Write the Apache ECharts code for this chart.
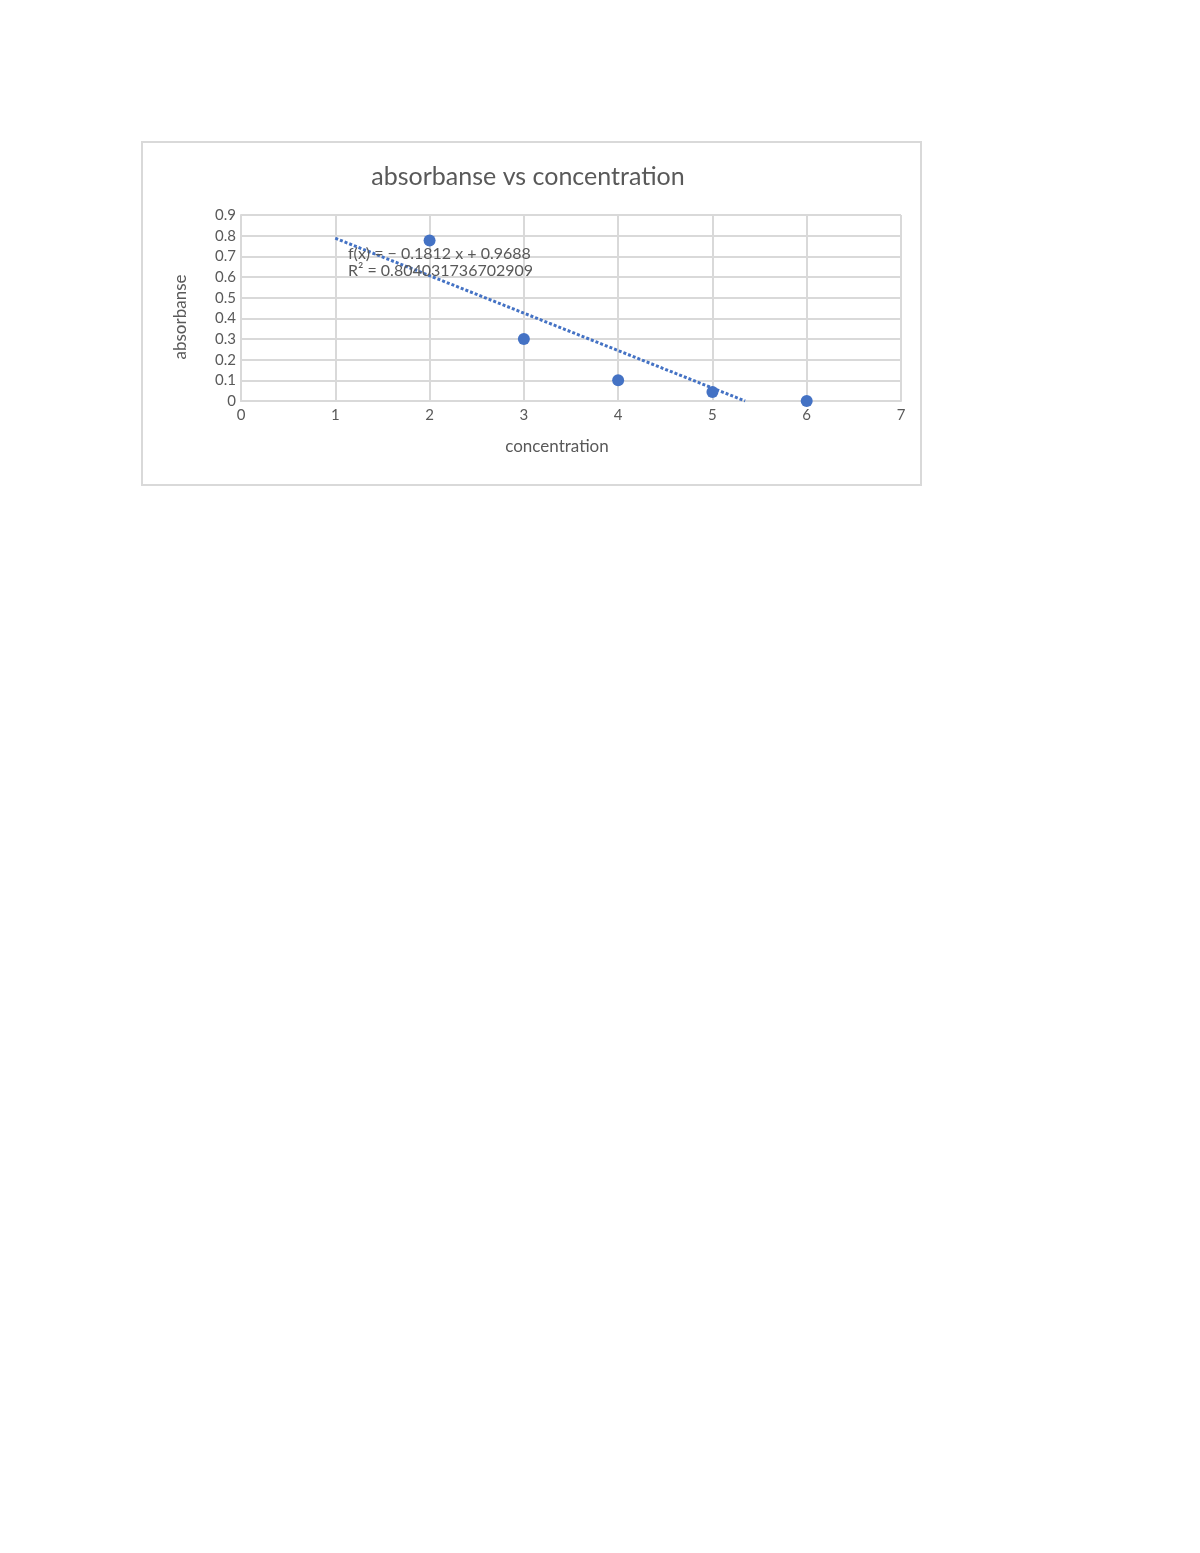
<!DOCTYPE html>
<html><head><meta charset="utf-8">
<script src="https://cdn.jsdelivr.net/npm/echarts@6/dist/echarts.min.js"></script>
<style>html,body{margin:0;padding:0;background:#fff}#c{width:1200px;height:1553px}</style>
</head><body><div id="c"></div>
<script>
const concentration = [2, 3, 4, 5, 6];
const absorbance = [0.777, 0.3, 0.1, 0.043, 0];
const trendCoef = [-0.1812, 0.9688]; // slope, intercept
const trendRange = [1, 5.3466];
const rSquared = '0.804031736702909';
const xTicks = [0, 1, 2, 3, 4, 5, 6, 7];
const yTicks = [0, 0.1, 0.2, 0.3, 0.4, 0.5, 0.6, 0.7, 0.8, 0.9];

const pts = concentration.map((x, i) => [x, absorbance[i]]);
const trend = trendRange.map(x => [x, trendCoef[0] * x + trendCoef[1]]);
const font = 'Lato, Carlito, sans-serif';
const grey = '#595959';

const chart = echarts.init(document.getElementById('c'));
chart.setOption({
  animation: false,
  backgroundColor: '#fff',
  grid: {left: 241, right: 299, top: 215, bottom: 1152, containLabel: false},
  xAxis: {
    type: 'value', min: xTicks[0], max: xTicks[xTicks.length - 1], interval: 1,
    axisLine: {show: true, lineStyle: {color: '#d9d9d9', width: 2}},
    axisTick: {show: false},
    axisLabel: {fontFamily: font, fontSize: 15, color: grey, margin: 7},
    splitLine: {show: true, lineStyle: {color: '#d9d9d9', width: 2}}
  },
  yAxis: {
    type: 'value', min: yTicks[0], max: yTicks[yTicks.length - 1], interval: 0.1,
    axisLine: {show: true, lineStyle: {color: '#d9d9d9', width: 2}},
    axisTick: {show: false},
    axisLabel: {fontFamily: font, fontSize: 15, color: grey, margin: 5},
    splitLine: {show: true, lineStyle: {color: '#d9d9d9', width: 2}}
  },
  series: [
    {
      type: 'line', data: trend, symbol: 'none', z: 3,
      lineStyle: {color: '#4472C4', width: 3, type: [3, 2]}
    },
    {
      type: 'scatter', data: pts, symbol: 'circle', symbolSize: 12, z: 4,
      itemStyle: {color: '#4472C4', opacity: 1}
    }
  ],
  graphic: [
    {type: 'rect', shape: {x: 142, y: 142, width: 779, height: 343},
     style: {fill: 'none', stroke: '#d9d9d9', lineWidth: 2}, z: -1},
    {type: 'text', x: 528, y: 177, z: 10,
     style: {text: 'absorbanse vs concentration', font: '25px ' + font, fill: grey,
             textAlign: 'center', textVerticalAlign: 'middle'}},
    {type: 'text', x: 557, y: 447, z: 10,
     style: {text: 'concentration', font: '17px ' + font, fill: grey,
             textAlign: 'center', textVerticalAlign: 'middle'}},
    {type: 'text', x: 181, y: 317, rotation: Math.PI / 2, z: 10,
     style: {text: 'absorbanse', font: '17px ' + font, fill: grey,
             textAlign: 'center', textVerticalAlign: 'middle'}},
    {type: 'text', x: 348, y: 254, z: 10,
     style: {text: 'f(x) = − 0.1812 x + 0.9688', font: '16px ' + font, fill: grey,
             textVerticalAlign: 'middle'}},
    {type: 'text', x: 348, y: 271, z: 10,
     style: {text: 'R² = ' + rSquared, font: '16px ' + font, fill: grey,
             textVerticalAlign: 'middle'}}
  ]
});
</script></body></html>
